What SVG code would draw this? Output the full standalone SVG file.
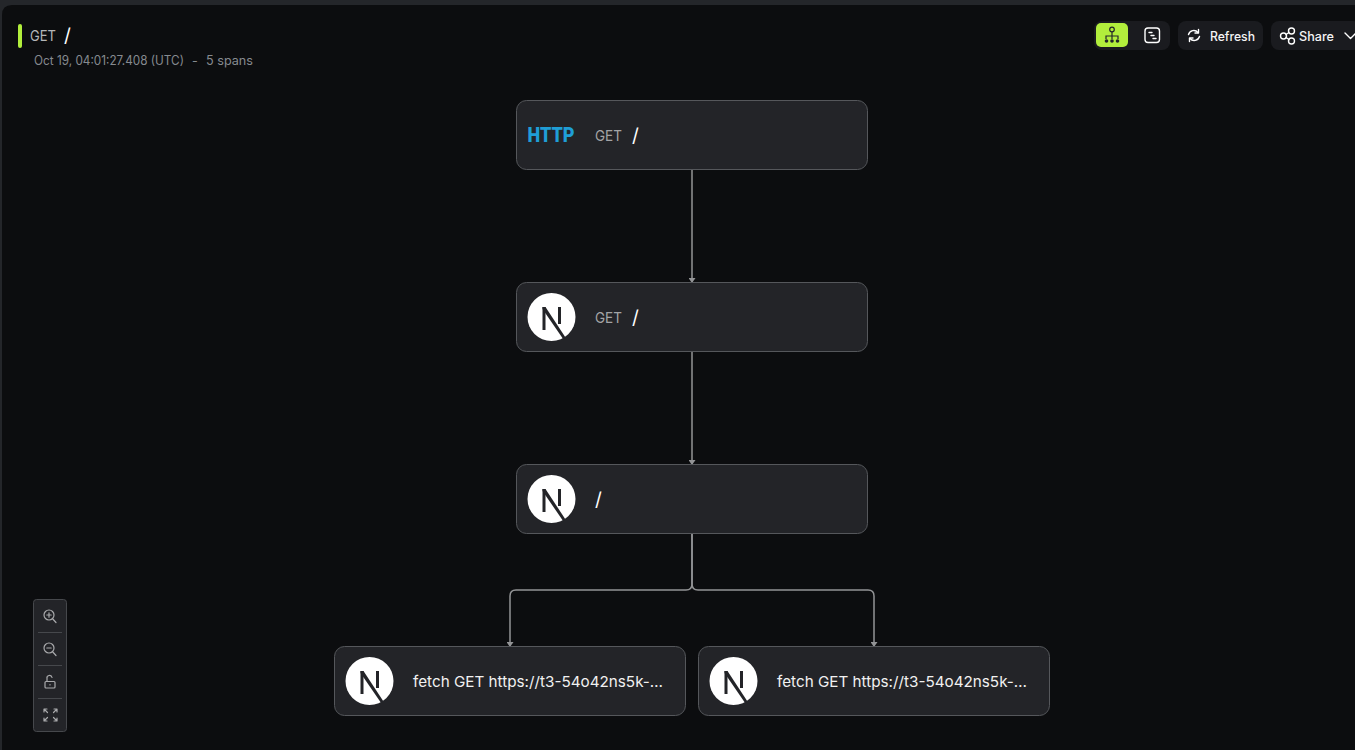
<svg xmlns="http://www.w3.org/2000/svg" width="1355" height="750" viewBox="0 0 1355 750">
<style>
text{font-family:Inter,"Noto Sans","Liberation Sans",sans-serif}
.card{fill:#232428;stroke:#55575b;stroke-width:1}
.edge{fill:none;stroke:#939496;stroke-width:1.5}
.logo{fill:#fff}
.get{fill:#a3a4a6;font-size:15px}
.sl{fill:#fff;font-size:19px}
.fetch{fill:#f1f1f1;font-size:15px;font-weight:400}
.ic{fill:none;stroke:#fff;stroke-width:1.4;stroke-linecap:round;stroke-linejoin:round}
.zi{fill:none;stroke:#a9aaac;stroke-width:1.2;stroke-linecap:round;stroke-linejoin:round}
.btn{fill:#1a1b1f}
.bl{fill:#f4f4f4;font-size:12.5px;font-weight:500}
.sub{fill:#868a8f;font-size:12.5px}
</style>
<defs>
<marker id="arr" markerUnits="userSpaceOnUse" markerWidth="5" markerHeight="7" viewBox="0 0 5 7" refX="5" refY="3.5" orient="auto"><path d="M0 0L5 3.500L0 7Z" fill="#939496"/></marker>
<g id="nx">
<circle cx="24" cy="24" r="24" class="logo"/>
<rect x="15" y="14" width="3" height="23" fill="#232428"/>
<rect x="30.500" y="14" width="3" height="17" fill="#232428"/>
<path d="M15 14H18L38 44.500L35.600 46L15 16Z" fill="#232428"/>
</g>
</defs>
<rect width="1355" height="750" fill="#24262a"/>
<path d="M2 750V15Q2 5 12 5H1355V750Z" fill="#0c0d0f"/>

<g id="header">
<rect x="18" y="24" width="4" height="24" rx="2" fill="#b2ee3c"/>
<text x="30" y="41" fill="#b5b6b8" font-size="14.500" textLength="26" lengthAdjust="spacingAndGlyphs">GET</text>
<text x="64" y="42" fill="#fff" font-size="19">/</text>
<text x="34" y="65" class="sub" textLength="150" lengthAdjust="spacingAndGlyphs">Oct 19, 04:01:27.408 (UTC)</text>
<text x="192" y="65" class="sub">-</text>
<text x="206" y="65" class="sub" textLength="47" lengthAdjust="spacingAndGlyphs">5 spans</text>
</g>

<g id="toolbar">
<rect x="1094" y="21" width="76" height="29" rx="8" class="btn"/>
<rect x="1096" y="23" width="32" height="24" rx="5" fill="#b2ee3c"/>
<g fill="none" stroke="#24262a" stroke-width="1.2"><circle cx="1112" cy="29.500" r="2.300"/><path d="M1112 32V36M1106 39V36H1118V39M1112 36V39"/></g>
<g fill="#24262a"><circle cx="1106.500" cy="41" r="1.800"/><circle cx="1112" cy="41" r="1.800"/><circle cx="1117.500" cy="41" r="1.800"/></g>
<rect x="1145" y="28" width="14.500" height="14.500" rx="3" class="ic"/>
<path d="M1149 32.500H1152M1151 35.500H1154M1153 38.500H1156" class="ic" stroke-width="1.200"/>
<rect x="1178" y="21" width="85" height="29" rx="8" class="btn"/>
<path d="M1188.500 34.500A5.500 5.500 0 0 1 1198 32.500M1199.500 36.500A5.500 5.500 0 0 1 1190 38.500" class="ic"/>
<path d="M1198.500 29.500V33H1195M1189.500 41.500V38H1193" class="ic" stroke-width="1.200"/>
<text x="1210" y="41" class="bl" textLength="45" lengthAdjust="spacingAndGlyphs">Refresh</text>
<rect x="1271" y="21" width="90" height="29" rx="8" class="btn"/>
<circle cx="1283.500" cy="36" r="3" class="ic" stroke-width="1.100"/><circle cx="1291.500" cy="31" r="3" class="ic" stroke-width="1.100"/><circle cx="1291.500" cy="41" r="3" class="ic" stroke-width="1.100"/>
<path d="M1286 34.500L1289 32.500M1286 37.500L1289 39.500" class="ic" stroke-width="1.100"/>
<text x="1299" y="41" class="bl" textLength="35" lengthAdjust="spacingAndGlyphs">Share</text>
<path d="M1345 33L1350.500 38.500L1356 33" class="ic"/>
</g>

<g id="connectors">
<path class="edge" d="M692 170V283" marker-end="url(#arr)"/>
<path class="edge" d="M692 352V465" marker-end="url(#arr)"/>
<path class="edge" d="M692 534V584Q692 590 686 590H516Q510 590 510 596V647" marker-end="url(#arr)"/>
<path class="edge" d="M692 534V584Q692 590 698 590H868Q874 590 874 596V647" marker-end="url(#arr)"/>
</g>

<g id="node-http">
<rect x="516.500" y="100.500" width="351" height="69" rx="10" class="card"/>
<text x="527.500" y="142" fill="#1f9ed6" font-size="20" font-weight="900" textLength="47" lengthAdjust="spacingAndGlyphs" style="font-family:Roboto,'Liberation Sans',sans-serif">HTTP</text>
<text x="595" y="141" class="get" textLength="27" lengthAdjust="spacingAndGlyphs">GET</text>
<text x="632" y="142" class="sl">/</text>
</g>
<g id="node-get">
<rect x="516.500" y="282.500" width="351" height="69" rx="10" class="card"/>
<use href="#nx" x="527.500" y="293"/>
<text x="595" y="323" class="get" textLength="27" lengthAdjust="spacingAndGlyphs">GET</text>
<text x="632" y="324" class="sl">/</text>
</g>
<g id="node-root">
<rect x="516.500" y="464.500" width="351" height="69" rx="10" class="card"/>
<use href="#nx" x="527.500" y="475"/>
<text x="595" y="506" class="sl">/</text>
</g>
<g id="node-fetch-1">
<rect x="334.500" y="646.500" width="351" height="69" rx="10" class="card"/>
<use href="#nx" x="345.500" y="657"/>
<text x="413" y="687" class="fetch" textLength="250" lengthAdjust="spacingAndGlyphs">fetch GET https://t3-54o42ns5k-…</text>
</g>
<g id="node-fetch-2">
<rect x="698.500" y="646.500" width="351" height="69" rx="10" class="card"/>
<use href="#nx" x="709.500" y="657"/>
<text x="777" y="687" class="fetch" textLength="250" lengthAdjust="spacingAndGlyphs">fetch GET https://t3-54o42ns5k-…</text>
</g>

<g id="zoom-controls">
<rect x="33.500" y="599.500" width="33" height="132" rx="3" fill="#232428" stroke="#46484c"/>
<path d="M38 632.500H62M38 665.500H62M38 698.500H62" stroke="#46484c" fill="none"/>
<circle cx="49" cy="615" r="5" class="zi"/><path d="M52.800 619L56 622.500M46.800 615H51.200M49 612.800V617.200" class="zi"/>
<circle cx="49" cy="648" r="5" class="zi"/><path d="M52.800 652L56 655.500M46.800 648H51.200" class="zi"/>
<rect x="45" y="681.500" width="10" height="6.500" rx="1" class="zi"/><path d="M47 681.500V678.500A2.500 2.500 0 0 1 52 677.500M50 684.500V685" class="zi"/>
<path d="M44 712V709H47M54 709H57V712M44 718V721H47M54 721H57V718M44.500 709.500L47.500 712.500M56.500 709.500L53.500 712.500M44.500 720.500L47.500 717.500M56.500 720.500L53.500 717.500" class="zi"/>
</g>
</svg>
